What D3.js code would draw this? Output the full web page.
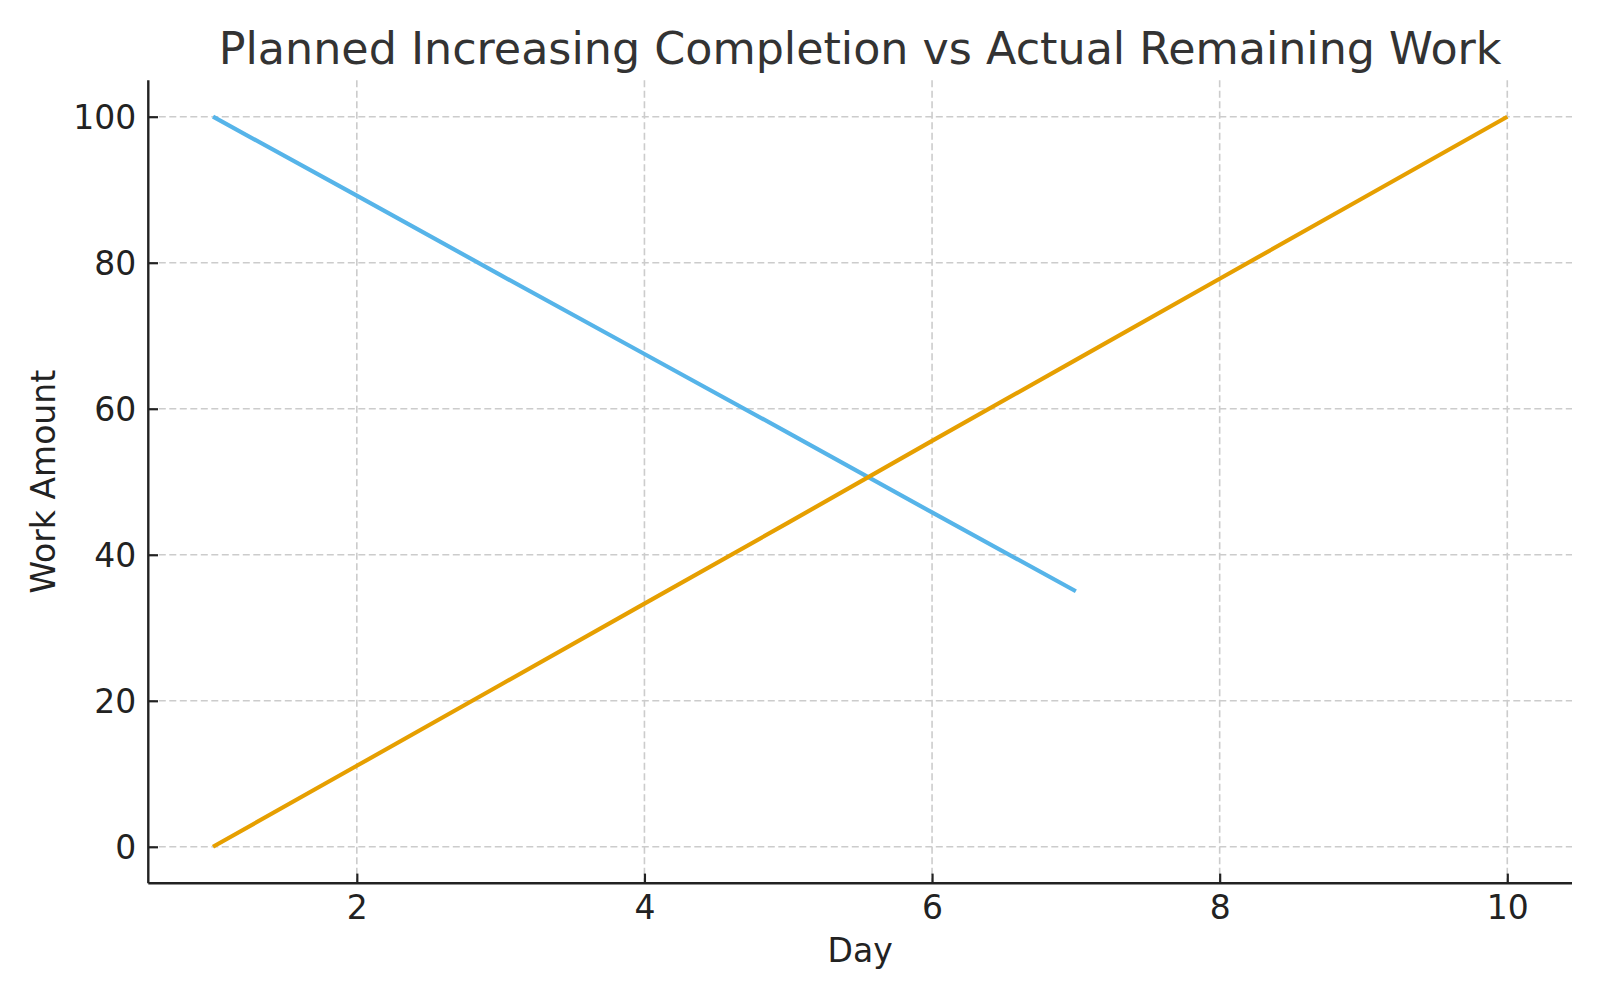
<!DOCTYPE html>
<html>
<head>
<meta charset="utf-8">
<script src="https://cdn.jsdelivr.net/npm/d3@7"></script>
<style>
  html, body { margin: 0; padding: 0; background: #fff; }
  svg { display: block; }
  text { font-family: "DejaVu Sans", sans-serif; }
</style>
</head>
<body>
<svg id="chart" width="1600" height="1000"></svg>
<script>
const title = "Planned Increasing Completion vs Actual Remaining Work";
const xLabel = "Day";
const yLabel = "Work Amount";

const plannedDays = [1, 2, 3, 4, 5, 6, 7, 8, 9, 10];
const plannedValues = [0, 11.1, 22.2, 33.3, 44.4, 55.6, 66.7, 77.8, 88.9, 100];

const actualDays = [1, 2, 3, 4, 5, 6, 7];
const actualValues = [100, 89.2, 78.3, 67.5, 56.7, 45.8, 35];

const xTicks = [2, 4, 6, 8, 10];
const yTicks = [0, 20, 40, 60, 80, 100];

const plannedColor = "#E69F00";
const actualColor = "#56B4E9";

const svg = d3.select("#chart");
const mLeft = 148.3, mRight = 1572, mTop = 80.2, mBottom = 883.3;

const x = d3.scaleLinear().domain([0.55, 10.45]).range([mLeft, mRight]);
const y = d3.scaleLinear().domain([-5, 105]).range([mBottom, mTop]);

// grid
const grid = svg.append("g");
grid.selectAll("line.gx").data(xTicks).join("line").attr("class", "gx")
  .attr("x1", d => x(d)).attr("x2", d => x(d))
  .attr("y1", mTop).attr("y2", mBottom)
  .attr("stroke", "#cccccc").attr("stroke-width", 1.6)
  .attr("stroke-dasharray", "7,3.5");
grid.selectAll("line.gy").data(yTicks).join("line").attr("class", "gy")
  .attr("x1", mLeft).attr("x2", mRight)
  .attr("y1", d => y(d)).attr("y2", d => y(d))
  .attr("stroke", "#cccccc").attr("stroke-width", 1.6)
  .attr("stroke-dasharray", "7,3.5");

// lines
const line = d3.line().x(d => x(d[0])).y(d => y(d[1]));
svg.append("path")
  .datum(actualDays.map((d, i) => [d, actualValues[i]]))
  .attr("d", line).attr("fill", "none")
  .attr("stroke", actualColor).attr("stroke-width", 4.2);
svg.append("path")
  .datum(plannedDays.map((d, i) => [d, plannedValues[i]]))
  .attr("d", line).attr("fill", "none")
  .attr("stroke", plannedColor).attr("stroke-width", 4.2);

// axes
const xAxis = d3.axisBottom(x).tickValues(xTicks).tickSizeInner(-9.7).tickSizeOuter(0).tickPadding(22);
const yAxis = d3.axisLeft(y).tickValues(yTicks).tickSizeInner(-9.7).tickSizeOuter(0).tickPadding(22);

const gx = svg.append("g").attr("transform", `translate(0,${mBottom})`).call(xAxis);
const gy = svg.append("g").attr("transform", `translate(${mLeft},0)`).call(yAxis);

[gx, gy].forEach(g => {
  g.select(".domain").attr("stroke", "#222").attr("stroke-width", 2.4);
  g.selectAll(".tick line").attr("stroke", "#222").attr("stroke-width", 2.2);
  g.selectAll(".tick text").attr("fill", "#222")
    .style("font-family", "'DejaVu Sans', sans-serif").style("font-size", "33px");
});
gx.select(".domain").attr("d", `M${mLeft},0H${mRight}`);
gy.select(".domain").attr("d", `M0,${mBottom}V${mTop}`);
gx.selectAll(".tick text").attr("dy", null).attr("y", 36);
gy.selectAll(".tick text").attr("x", -12).attr("dy", "0.36em");

// labels
svg.append("text").attr("x", (mLeft + mRight) / 2).attr("y", 64)
  .attr("text-anchor", "middle").attr("fill", "#333")
  .style("font-size", "44.4px").text(title);
svg.append("text").attr("x", (mLeft + mRight) / 2).attr("y", 962)
  .attr("text-anchor", "middle").attr("fill", "#222")
  .style("font-size", "33px").text(xLabel);
svg.append("text")
  .attr("transform", `translate(55,${(mTop + mBottom) / 2}) rotate(-90)`)
  .attr("text-anchor", "middle").attr("fill", "#222")
  .style("font-size", "33px").text(yLabel);
</script>
</body>
</html>
